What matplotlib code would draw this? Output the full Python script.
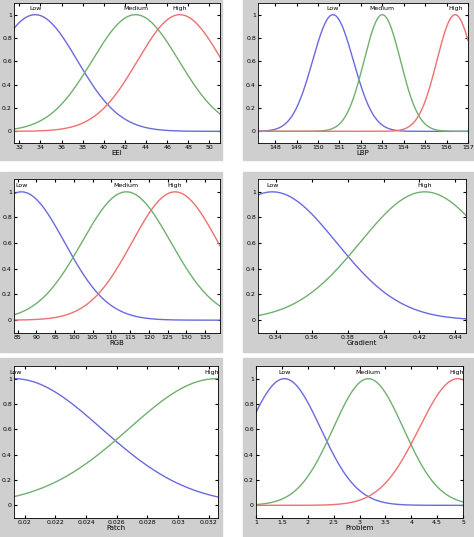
import numpy as np
import matplotlib.pyplot as plt
from matplotlib.patches import Rectangle

# each panel: variable name, x range, ticks, (label, center, sigma, color)
names = ["EEI", "LBP", "RGB", "Gradient", "Patch", "Problem"]
xranges = [(31.5, 51), (147.2, 157), (84, 139), (0.33, 0.446), (0.0193, 0.0326), (1, 5)]
xticks = [
    [32, 34, 36, 38, 40, 42, 44, 46, 48, 50],
    [148, 149, 150, 151, 152, 153, 154, 155, 156, 157],
    [85, 90, 95, 100, 105, 110, 115, 120, 125, 130, 135],
    [0.34, 0.36, 0.38, 0.4, 0.42, 0.44],
    [0.02, 0.022, 0.024, 0.026, 0.028, 0.03, 0.032],
    [1, 1.5, 2, 2.5, 3, 3.5, 4, 4.5, 5],
]
mf_labels = [
    ["Low", "Medium", "High"],
    ["Low", "Medium", "High"],
    ["Low", "Medium", "High"],
    ["Low", "High"],
    ["Low", "High"],
    ["Low", "Medium", "High"],
]
centers = [
    [33.5, 43.0, 47.2],
    [150.7, 153.0, 156.4],
    [86.0, 114.0, 127.0],
    [0.338, 0.423],
    [0.0193, 0.0325],
    [1.55, 3.17, 4.9],
]
sigmas = [
    [4.0, 4.1, 4.0],
    [0.95, 0.85, 0.85],
    [11.5, 11.9, 11.5],
    [0.0357, 0.036],
    [0.0057, 0.0057],
    [0.70, 0.68, 0.75],
]
colors3 = ["#6a6ae0", "#6fb06f", "#f06f6f"]
colors2 = ["#6a6ae0", "#6fb06f"]

W, H = 474, 537
fig = plt.figure(figsize=(W / 100, H / 100), dpi=100)
fig.patch.set_facecolor("white")

# axes boxes in pixels: left, top, right, bottom
boxes = [(14, 3, 220, 143), (258, 3, 468, 143),
         (14, 179, 220, 333), (258, 179, 466, 333),
         (14, 366, 218, 518), (256, 366, 463, 518)]
panels = [(0, 0, 222, 160), (243, 0, 474, 160),
          (0, 172, 222, 352), (243, 172, 474, 352),
          (0, 358, 222, 537), (243, 358, 474, 537)]

for (l, t, r, b) in panels:
    fig.patches.append(Rectangle((l / W, 1 - b / H), (r - l) / W, (b - t) / H,
                                 transform=fig.transFigure, color="#cfcfcf", zorder=-5))

for i, (l, t, r, b) in enumerate(boxes):
    ax = fig.add_axes([l / W, 1 - b / H, (r - l) / W, (b - t) / H])
    x0, x1 = xranges[i]
    x = np.linspace(x0, x1, 400)
    cols = colors3 if len(centers[i]) == 3 else colors2
    for lab, c, s, col in zip(mf_labels[i], centers[i], sigmas[i], cols):
        ax.plot(x, np.exp(-0.5 * ((x - c) / s) ** 2), color=col, lw=1)
        ax.text(min(max(c, x0 + 0.01 * (x1 - x0)), x1 - 0.03 * (x1 - x0)), 1.03, lab,
                ha="center", va="bottom", fontsize=4.5)
    ax.set_xlim(x0, x1)
    ax.set_ylim(-0.1, 1.1)
    ax.set_xticks(xticks[i])
    ax.set_xticklabels([f"{v:g}" for v in xticks[i]])
    ax.set_yticks([0, 0.2, 0.4, 0.6, 0.8, 1])
    ax.set_yticklabels(["0", "0.2", "0.4", "0.6", "0.8", "1"])
    ax.tick_params(direction="in", top=True, right=True, labelsize=4.5, length=2, pad=1.5)
    ax.set_xlabel(names[i], fontsize=5, labelpad=0)
    for sp in ax.spines.values():
        sp.set_linewidth(0.6)

fig.savefig("out.png", dpi=100)
